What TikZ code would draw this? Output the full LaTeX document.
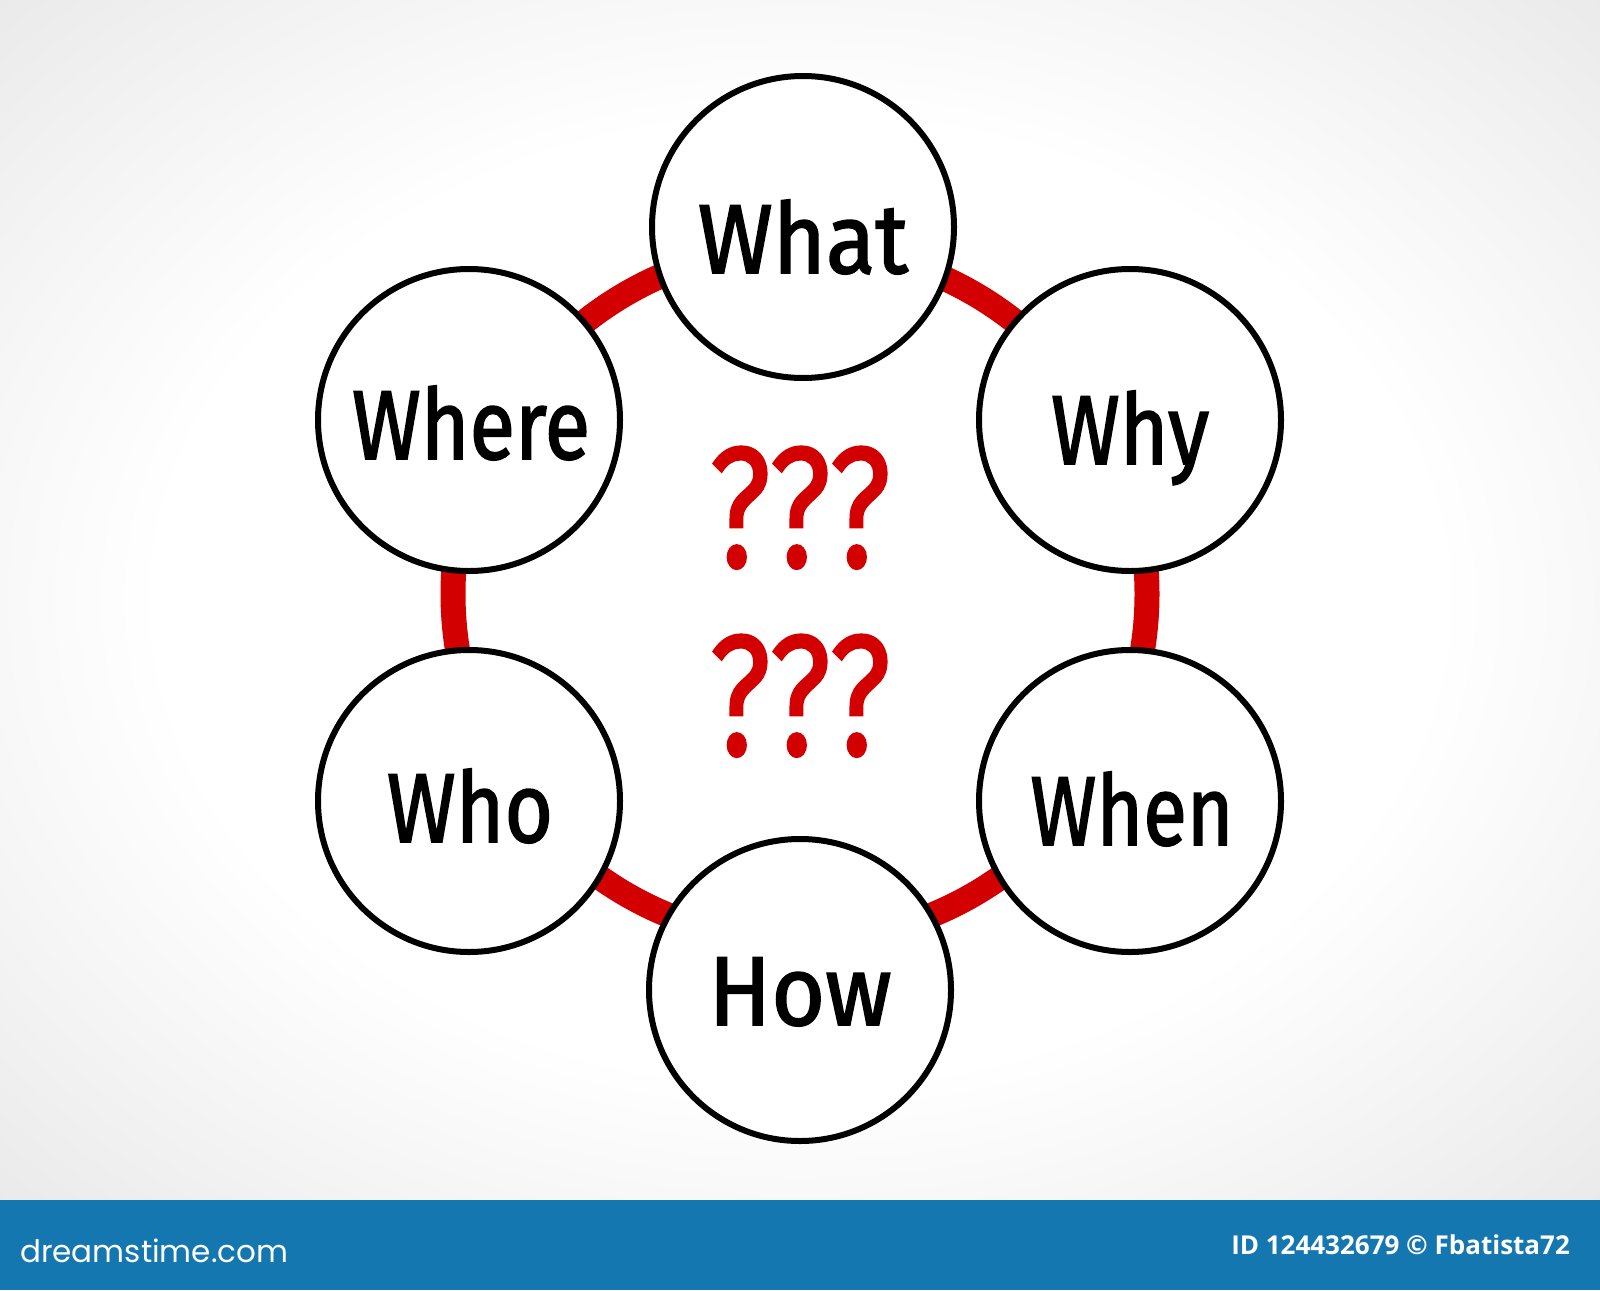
\documentclass[tikz,border=0pt]{standalone}
\usepackage{fontspec}
\setmainfont{Fira Sans}
\newfontfamily\wordfont[FakeBold=1.8]{Fira Sans}
\newfontfamily\qfont[FakeBold=1.2]{Fira Sans}
\newfontfamily\logofont{Poppins}
\newfontfamily\idfont{Open Sans}
\definecolor{ringred}{HTML}{D20000}
\definecolor{barblue}{HTML}{1477B0}
\pgfdeclareradialshading{bgshade}{\pgfpoint{0bp}{0bp}}{color(0bp)=(white); color(20bp)=(white); color(50bp)=(black!16); color(72bp)=(black!25)}
\begin{document}
\begin{tikzpicture}[x=1pt,y=-1pt,
  qcirc/.style={circle, draw=black, line width=6pt, fill=white, minimum size=302pt, inner sep=0pt},
  qword/.style={anchor=base, inner sep=0pt, xscale=0.85, font=\wordfont\fontsize{98}{98}\selectfont},
  qmark/.style={anchor=base, inner sep=0pt, text=ringred, xscale=0.78, font=\qfont\fontsize{172}{172}\selectfont}]
\useasboundingbox (0,0) rectangle (1600,1290);
\shade[shading=bgshade] (0,0) rectangle (1600,1200);
\fill[barblue] (0,1200) rectangle (1600,1290);
% ring
\coordinate (ringc) at (800,594);
\draw[ringred, line width=25pt] (ringc) circle[radius=347pt];
% circles
\node[qcirc] (what) at (803,227) {};
\node[qcirc] (where) at (469,420) {};
\node[qcirc] (why) at (1130,420) {};
\node[qcirc] (who) at (469,801) {};
\node[qcirc] (when) at (1130,801) {};
\node[qcirc] (how) at (800,990) {};
% words
\node[qword, xscale=1.09] (twhat) at (803,273) {What};
\node[qword] (twhere) at (471,459) {Where};
\node[qword] (twhy) at (1130,464) {Why};
\node[qword] (twho) at (470,842) {Who};
\node[qword, xscale=0.96] (twhen) at (1132,845) {When};
\node[qword, xscale=1.11] (thow) at (800,1025) {How};
% question marks
\node[qmark] (q1) at (740,567) {?};
\node[qmark] (q2) at (800,567) {?};
\node[qmark] (q3) at (860,567) {?};
\node[qmark] (q4) at (740,755) {?};
\node[qmark] (q5) at (800,755) {?};
\node[qmark] (q6) at (860,755) {?};
% footer
\node[anchor=base west, inner sep=0pt, text=white, font=\logofont\fontsize{31}{31}\selectfont] (logo) at (20,1262) {dreamstime.com};
\node[anchor=base east, inner sep=0pt, text=white, font=\idfont\bfseries\fontsize{26}{26}\selectfont] (idtext) at (1570,1254) {ID 124432679 © Fbatista72};
\end{tikzpicture}
\end{document}
